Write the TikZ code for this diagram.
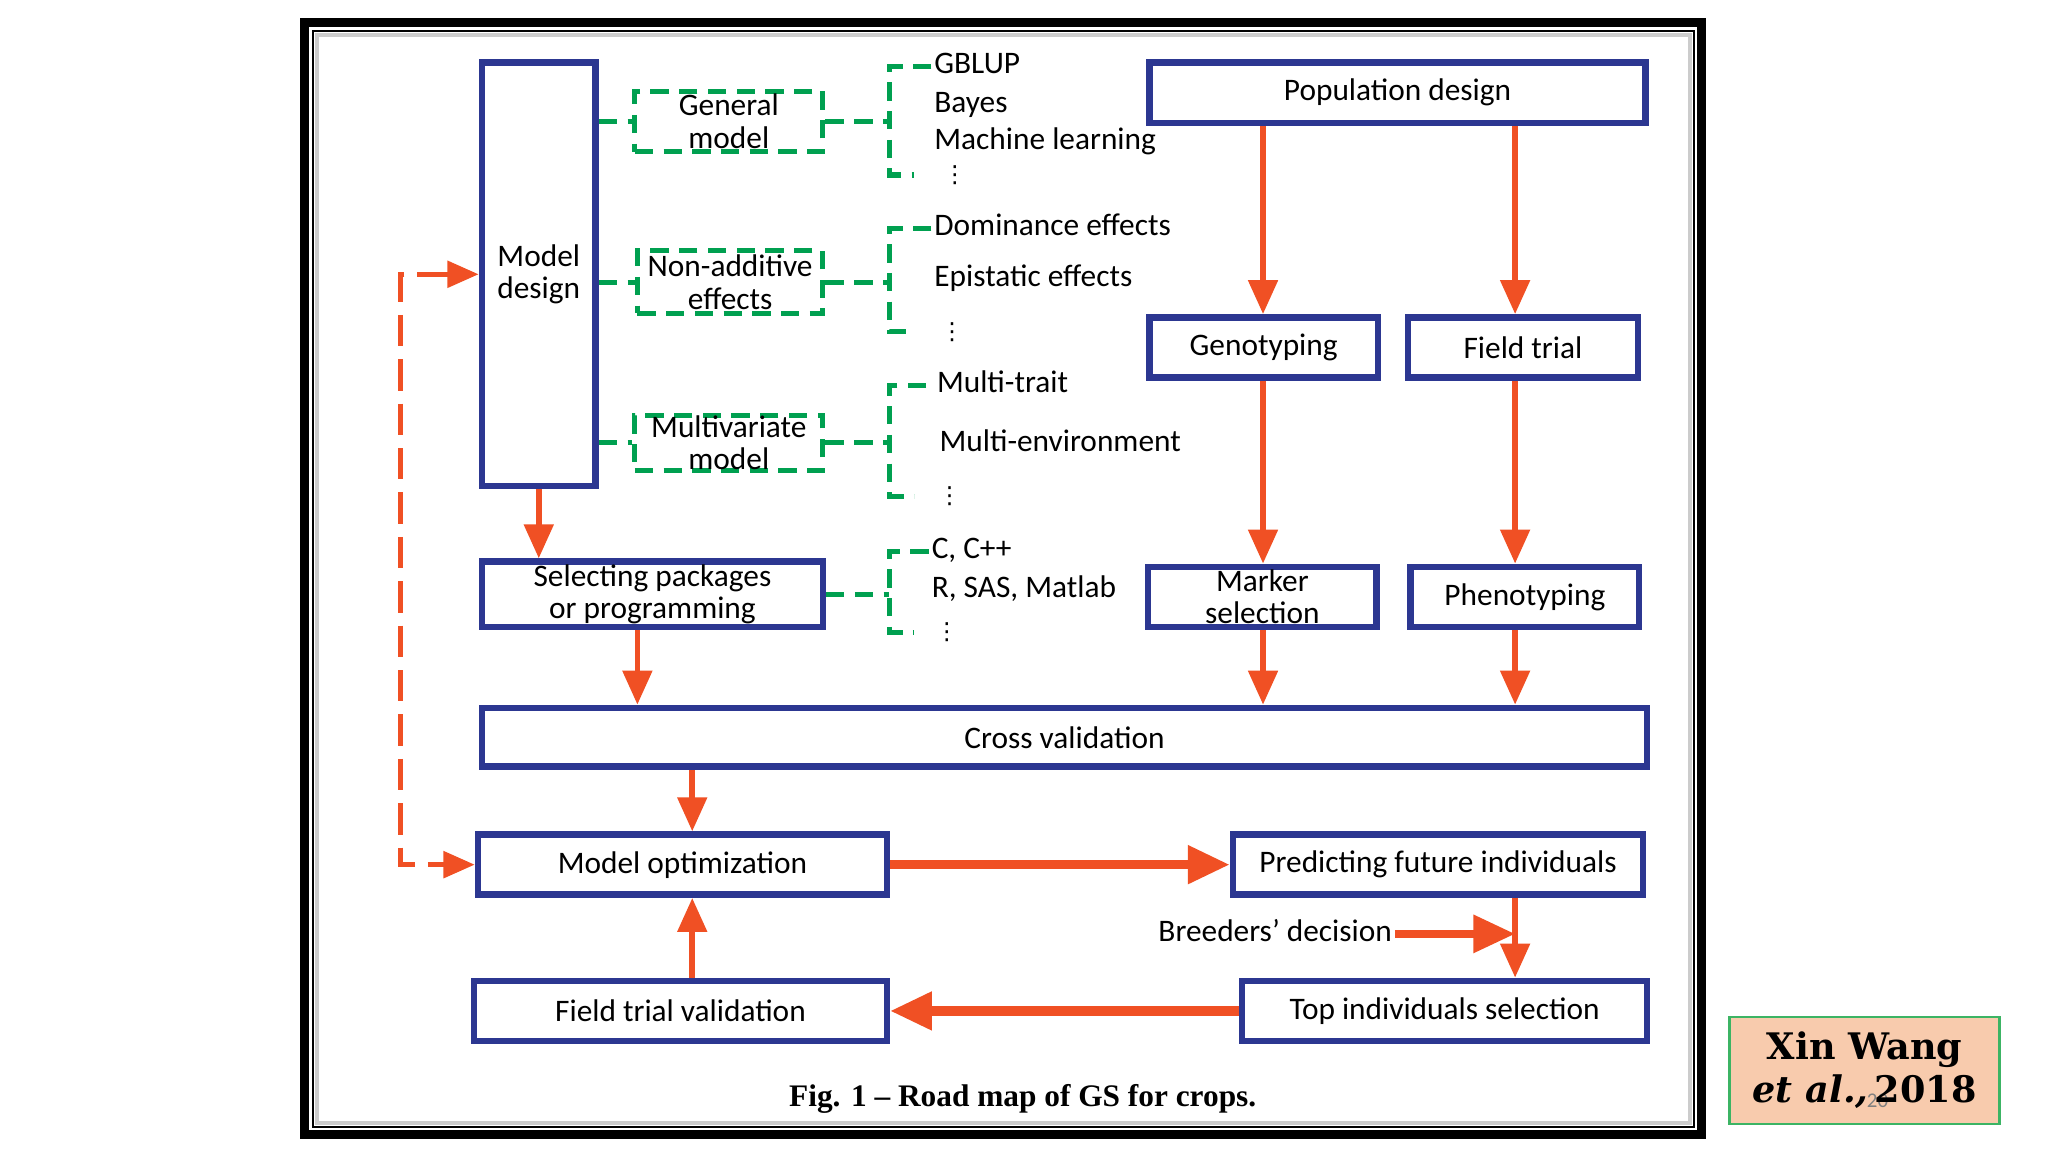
\documentclass[tikz,border=0pt]{standalone}
\usepackage{fontspec}
\setmainfont{Carlito}
\newfontfamily\capfont{Liberation Serif}
\newfontfamily\authfont{DejaVu Serif}
\newfontfamily\symfont{DejaVu Sans}
\usetikzlibrary{arrows.meta}
\definecolor{navy}{RGB}{44,55,145}
\definecolor{ored}{RGB}{240,80,36}
\definecolor{grn}{RGB}{0,160,80}
\definecolor{peach}{RGB}{248,203,173}
\definecolor{bgrn}{RGB}{60,180,100}
\begin{document}
\begin{tikzpicture}[x=0.5pt, y=-0.5pt,
  blk/.style={draw=navy, line width=2.5pt, inner sep=0pt, minimum height=23pt, align=center, font=\fontsize{12}{12.5}\selectfont},
  gbox/.style={draw=grn, line width=2pt, dash pattern=on 7pt off 4pt, inner sep=0pt, align=center, font=\fontsize{12}{12.5}\selectfont},
  itm/.style={anchor=west, inner sep=1pt, text height=8pt, text depth=2.5pt, font=\fontsize{12}{14}\selectfont},
  dts/.style={inner sep=0pt, font=\symfont\fontsize{9}{9}\selectfont},
  gdash/.style={draw=grn, line width=2pt, dash pattern=on 7pt off 4pt},
  arr/.style={draw=ored, line width=2.2pt, -{Triangle[length=13pt, width=11pt]}},
  thk/.style={draw=ored, line width=3.5pt, -{Triangle[length=16pt, width=14pt]}},
  odash/.style={draw=ored, line width=2pt, dash pattern=on 12pt off 5pt, {Triangle[length=12pt, width=10pt]}-{Triangle[length=12pt, width=10pt]}}]
\fill[white] (0,0) rectangle (1568,882);
\useasboundingbox (0,0) rectangle (1568,882);
% frame
\draw[line width=3.5pt] (233.2,17.3) rectangle (1302.8,868.7);
\draw[line width=0.8pt] (239.6,23.7) rectangle (1297,863);
\draw[gray!40, line width=1.5pt] (242.5,26.5) rectangle (1294,860);
% boxes
\node[blk, minimum width=43.5pt, minimum height=162pt] (md) at (412.5,210) {Model\\design};
\node[gbox, minimum width=72pt, minimum height=23pt] (gm) at (558,93) {General\\model};
\node[gbox, minimum width=71pt, minimum height=24pt] (na) at (559,216) {Non-additive\\effects};
\node[gbox, minimum width=72pt, minimum height=21pt] (mv) at (558,339) {Multivariate\\model};
\node[blk, minimum width=130.5pt, minimum height=25pt] (sp) at (499.5,455) {Selecting packages\\or programming};
\node[blk, minimum width=190pt] (pd) at (1070,71) {Population design};
\node[blk, minimum width=87.5pt] (gt) at (967.5,266) {Genotyping};
\node[blk, minimum width=88pt] (ft) at (1166,266) {Field trial};
\node[blk, minimum width=87.5pt] (ms) at (966.5,457) {Marker\\selection};
\node[blk, minimum width=87.5pt] (ph) at (1167.5,457) {Phenotyping};
\node[blk, minimum width=446pt, minimum height=22.5pt] (cv) at (815,564.5) {Cross validation};
\node[blk, minimum width=156.5pt] (mo) at (522.5,662) {Model optimization};
\node[blk, minimum width=157pt] (pf) at (1101,662) {Predicting future individuals};
\node[blk, minimum width=158pt] (fv) at (521,774) {Field trial validation};
\node[blk, minimum width=155pt] (ts) at (1106,774) {Top individuals selection};
% lists
\node[itm] (g1) at (713,51) {GBLUP};
\node[itm] (g2) at (713,81) {Bayes};
\node[itm] (g3) at (713,109) {Machine learning};
\node[dts] (d1) at (731,134) {⋮};
\node[itm] (n1) at (713,175) {Dominance effects};
\node[itm] (n2) at (713,214) {Epistatic effects};
\node[dts] (d2) at (729,254) {⋮};
\node[itm] (m1) at (715,295) {Multi-trait};
\node[itm] (m2) at (717,340) {Multi-environment};
\node[dts] (d3) at (727,380) {⋮};
\node[itm] (c1) at (711,422) {C, C++};
\node[itm] (c2) at (711,452) {R, SAS, Matlab};
\node[dts] (d4) at (725,484) {⋮};
% green brackets
\coordinate (b1) at (681,93);
\coordinate (b2) at (681,216);
\coordinate (b3) at (681,339);
\coordinate (b4) at (681,455);
\draw[gdash] (md.east |- gm.west) -- (gm.west);
\draw[gdash] (gm.east) -- (b1);
\draw[gdash] (g1.west) -| (b1 |- d1) -- ++(19,0);
\draw[gdash] (md.east |- na.west) -- (na.west);
\draw[gdash] (na.east) -- (b2);
\draw[gdash] (n1.west) -| (b2 |- d2) -- ++(19,0);
\draw[gdash] (md.east |- mv.west) -- (mv.west);
\draw[gdash] (mv.east) -- (b3);
\draw[gdash] ([xshift=-3pt]m1.west) -| (b3 |- d3) -- ++(19,0);
\draw[gdash] (sp.east) -- (b4 |- sp.east);
\draw[gdash] (c1.west) -| (b4 |- d4) -- ++(19,0);
% orange arrows
\coordinate (xa) at (488,0);
\coordinate (xb) at (530,0);
\coordinate (xc) at (967,0);
\coordinate (xd) at (1160,0);
\draw[arr] (xc |- pd.south) -- (xc |- gt.north);
\draw[arr] (xd |- pd.south) -- (xd |- ft.north);
\draw[arr] (xc |- gt.south) -- (xc |- ms.north);
\draw[arr] (xd |- ft.south) -- (xd |- ph.north);
\draw[arr] (xc |- ms.south) -- (xc |- cv.north);
\draw[arr] (xd |- ph.south) -- (xd |- cv.north);
\draw[arr] (md.south) -- (md.south |- sp.north);
\draw[arr] (xa |- sp.south) -- (xa |- cv.north);
\draw[arr] (xb |- cv.south) -- (xb |- mo.north);
\draw[arr] (xb |- fv.north) -- (xb |- mo.south);
\draw[thk] (mo.east) -- (pf.west);
\draw[arr] (xd |- pf.south) -- (xd |- ts.north);
\node[itm, anchor=east] (bd) at (1068,715) {Breeders’ decision};
\draw[thk, line width=3pt] (bd.east) -- (xd |- bd);
\draw[thk] (ts.west) -- (fv.east);
\draw[odash] (md.west) -- ++(-60,0) |- (mo.west);
% caption
\node[font=\capfont\bfseries\fontsize{12}{14}\selectfont] (cap) at (783,841) {Fig. 1 – Road map of GS for crops.};
% author
\node[draw=bgrn, line width=1pt, fill=peach, minimum width=103.5pt, minimum height=41pt] (au) at (1427.5,819.6) {};
\node[text=gray, font=\fontsize{8}{9}\selectfont, anchor=base west, inner sep=0pt] (pn) at (1429,848) {20};
\node[align=center, inner sep=0pt, font=\authfont\bfseries\fontsize{14}{16.5}\selectfont] (at) at (au) {Xin Wang\\\textit{et al.,}\,2018};
\end{tikzpicture}
\end{document}
